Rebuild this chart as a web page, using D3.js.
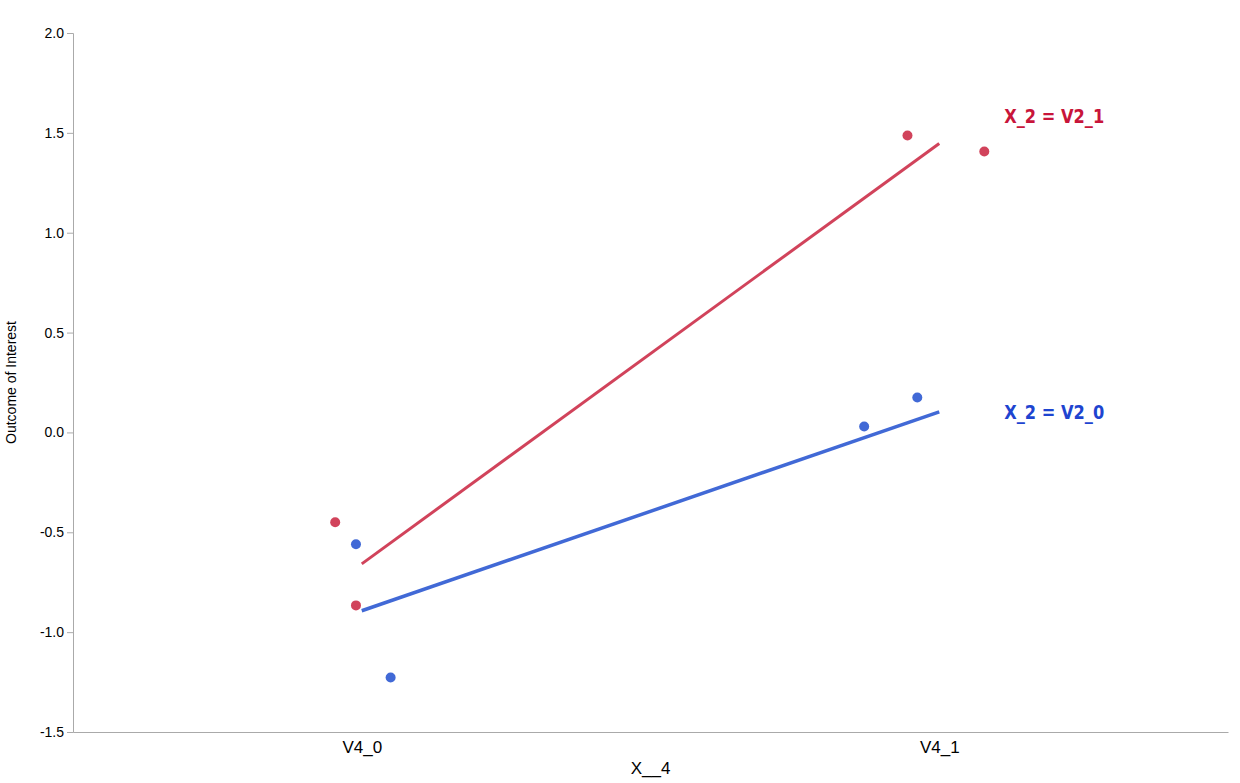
<!DOCTYPE html>
<html>
<head>
<meta charset="utf-8">
<script src="https://cdn.jsdelivr.net/npm/d3@7"></script>
<style>
  html, body { margin: 0; padding: 0; background: #fff; }
  svg { display: block; }
</style>
</head>
<body>
<div id="chart"></div>
<script>
(function () {
  var width  = 1240;
  var height = 783;

  // data
  var categories = ["V4_0", "V4_1"];
  var groups     = ["V2_0", "V2_1"];
  var yTicks     = [-1.5, -1.0, -0.5, 0.0, 0.5, 1.0, 1.5, 2.0];

  // individual observations (jitter = offset in fraction of category step)
  var pointCat    = ["V4_0", "V4_0", "V4_1", "V4_1", "V4_0", "V4_0", "V4_1", "V4_1"];
  var pointGroup  = ["V2_1", "V2_1", "V2_1", "V2_1", "V2_0", "V2_0", "V2_0", "V2_0"];
  var pointValue  = [-0.45, -0.866, 1.487, 1.407, -0.56, -1.227, 0.03, 0.175];
  var pointJitter = [-0.046, -0.010, -0.055, 0.078, -0.010, 0.050, -0.130, -0.038];

  // group means per category
  var meanV2_0 = [-0.893, 0.103];
  var meanV2_1 = [-0.658, 1.447];

  var colorMap = { "V2_0": "#4169d6", "V2_1": "#d1435b" };
  var labelColor = { "V2_0": "#1e44d0", "V2_1": "#c8153a" };

  var margin = { top: 33, right: 12, bottom: 51, left: 73 };

  var svg = d3.select("#chart")
    .append("svg")
    .attr("width", width)
    .attr("height", height);

  var x = d3.scalePoint()
    .domain(categories)
    .range([margin.left, width - margin.right])
    .padding(0.5);

  var y = d3.scaleLinear()
    .domain([-1.5, 2.0])
    .range([height - margin.bottom, margin.top]);

  var step = x.step();

  // axes
  var fmt = d3.format(".1f");
  var yAxis = svg.append("g")
    .attr("transform", "translate(" + margin.left + ",0)")
    .call(d3.axisLeft(y).tickValues(yTicks)
      .tickFormat(function (d) { return fmt(d).replace("\u2212", "-"); })
      .tickSizeOuter(0).tickSize(6));
  var xAxis = svg.append("g")
    .attr("transform", "translate(0," + (height - margin.bottom) + ")")
    .call(d3.axisBottom(x).tickSize(0).tickPadding(9));

  [yAxis, xAxis].forEach(function (a) {
    a.select(".domain").attr("stroke", "#aaa");
    a.selectAll(".tick line").attr("stroke", "#aaa");
    a.selectAll(".tick text")
      .attr("fill", "#000")
      .attr("font-family", "Liberation Sans, Arial, sans-serif")
      .attr("font-size", "14px");
  });
  xAxis.selectAll(".tick text").attr("font-size", "17px");

  svg.append("text")
    .attr("transform", "translate(16," + ((margin.top + height - margin.bottom) / 2) + ") rotate(-90)")
    .attr("text-anchor", "middle")
    .attr("font-family", "Liberation Sans, Arial, sans-serif")
    .attr("font-size", "14px")
    .text("Outcome of Interest");

  svg.append("text")
    .attr("x", (margin.left + width - margin.right) / 2)
    .attr("y", height - 9)
    .attr("text-anchor", "middle")
    .attr("font-family", "Liberation Sans, Arial, sans-serif")
    .attr("font-size", "17px")
    .text("X__4");

  // mean lines
  var means = { "V2_0": meanV2_0, "V2_1": meanV2_1 };
  var line = d3.line()
    .x(function (d, i) { return x(categories[i]); })
    .y(function (d) { return y(d); });

  groups.forEach(function (g) {
    svg.append("path")
      .datum(means[g])
      .attr("d", line)
      .attr("fill", "none")
      .attr("stroke", colorMap[g])
      .attr("stroke-width", g === "V2_0" ? 3.5 : 3);
  });

  // points
  var points = pointValue.map(function (v, i) {
    return { cat: pointCat[i], group: pointGroup[i], value: v, jitter: pointJitter[i] };
  });

  svg.append("g")
    .selectAll("circle")
    .data(points)
    .enter().append("circle")
    .attr("cx", function (d) { return x(d.cat) + d.jitter * step; })
    .attr("cy", function (d) { return y(d.value); })
    .attr("r", 5)
    .attr("fill", function (d) { return colorMap[d.group]; });

  // group labels at right end of each line
  groups.forEach(function (g) {
    var last = means[g][means[g].length - 1];
    svg.append("text")
      .attr("x", x(categories[categories.length - 1]) + 65)
      .attr("y", y(last) + (g === "V2_1" ? -20 : 7))
      .attr("fill", labelColor[g])
      .attr("font-family", "DejaVu Sans Condensed, DejaVu Sans, sans-serif")
      .attr("font-stretch", "condensed")
      .attr("font-weight", "bold")
      .attr("font-size", "19px")
      .attr("textLength", 100)
      .attr("lengthAdjust", "spacingAndGlyphs")
      .text("X_2 = " + g);
  });
})();
</script>
</body>
</html>
